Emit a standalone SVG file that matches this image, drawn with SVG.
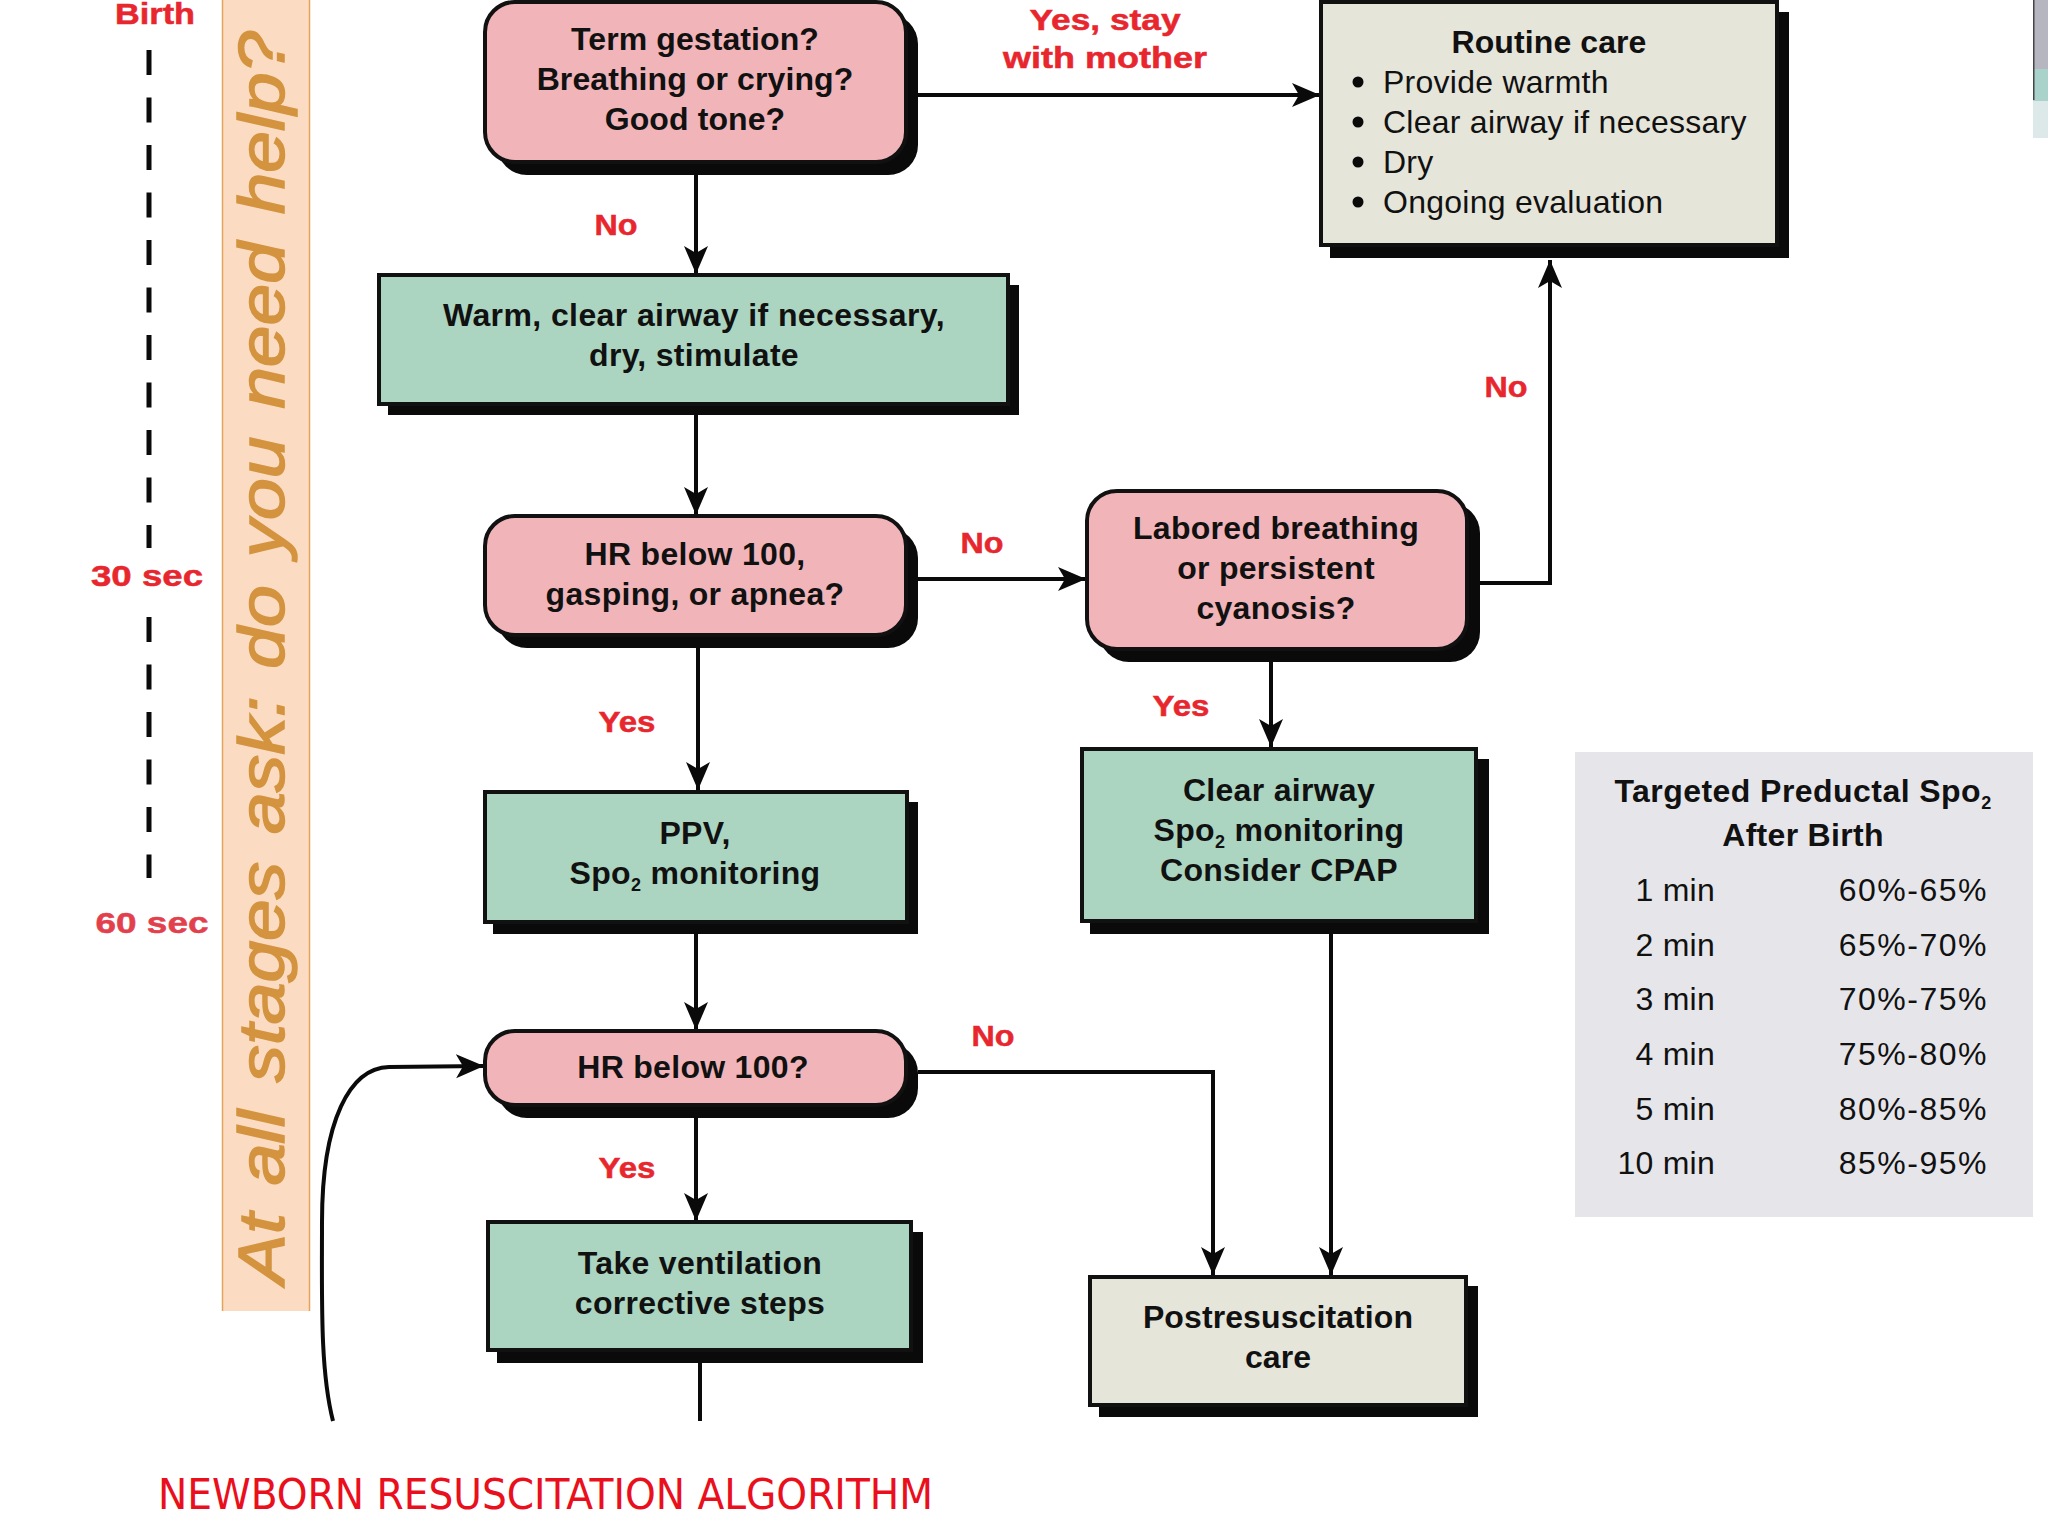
<svg xmlns="http://www.w3.org/2000/svg" width="2048" height="1536" viewBox="0 0 2048 1536">
<style>
text{font-family:"Liberation Sans",Arial,sans-serif;font-size:32px;fill:#111}
.c{text-anchor:middle}
.b{font-weight:700;letter-spacing:.3px}
.t{letter-spacing:.1px}
.r{text-anchor:end;letter-spacing:.25px}
.p{text-anchor:end;letter-spacing:1.5px}
.red{font-weight:700;font-size:30px;fill:#e8262e;text-anchor:middle;stroke:#e8262e;stroke-width:.5}
.s{fill:#0a0a0a}
.pink{fill:#f1b5b9;stroke:#111;stroke-width:4}
.green{fill:#abd5c0;stroke:#111;stroke-width:4}
.beige{fill:#e6e5da;stroke:#111;stroke-width:4}
.sub{font-size:18px}
.con{fill:none;stroke:#0a0a0a;stroke-width:4}
.arr{marker-end:url(#ah)}
</style>
<defs>
<marker id="ah" markerUnits="userSpaceOnUse" markerWidth="32" markerHeight="26" refX="28" refY="12" orient="auto">
<path d="M0 0 L28 12 L0 24 L7 12 Z" fill="#0a0a0a"/>
</marker>
</defs>
<rect width="2048" height="1536" fill="#fff"/>
<g id="sliver">
<rect x="2033" y="0" width="15" height="69" fill="#b6b6c0"/>
<rect x="2033" y="69" width="15" height="32" fill="#a9d2ca"/>
<rect x="2033" y="101" width="15" height="37" fill="#dde9e9"/>
<rect x="2033" y="0" width="1.500" height="100" fill="#444"/>
</g>
<g id="timeline">
<path class="con" style="stroke-width:5" stroke-dasharray="25 22.5" d="M149 50V548"/>
<path class="con" style="stroke-width:5" stroke-dasharray="25 22.500" d="M149 617V878"/>
<text class="red" x="155" y="24" textLength="80" lengthAdjust="spacingAndGlyphs">Birth</text>
<text class="red" x="147" y="586" textLength="112" lengthAdjust="spacingAndGlyphs">30 sec</text>
<text class="red" x="152" y="933" textLength="113" lengthAdjust="spacingAndGlyphs" style="fill:#e2404c;stroke:#e2404c">60 sec</text>
</g>
<g id="banner">
<rect x="222" y="0" width="88" height="1311" fill="#fbdcc2"/>
<path d="M222.500 0V1311M309.500 0V1311" fill="none" stroke="#e2a45c" stroke-width="1.500"/>
<text transform="translate(284,1284) rotate(-90)" textLength="1253" lengthAdjust="spacingAndGlyphs" style="font-size:64px;font-style:italic;font-weight:400;word-spacing:6px;fill:#d4933e;stroke:#d4933e;stroke-width:1.500">At all stages ask: do you need help?</text>
</g>
<g id="connectors">
<path class="con arr" d="M696 175V274"/>
<path class="con arr" d="M696 415V515"/>
<path class="con arr" d="M698 648V790"/>
<path class="con arr" d="M696 934V1030"/>
<path class="con arr" d="M696 1118V1221"/>
<path class="con" d="M700 1363V1421"/>
<path class="con arr" d="M918 95H1320"/>
<path class="con arr" d="M918 579H1086"/>
<path class="con arr" d="M1480 583H1550V260"/>
<path class="con arr" d="M1271 662V747"/>
<path class="con arr" d="M1331 934V1275"/>
<path class="con arr" d="M918 1072H1213V1275"/>
<path class="con arr" d="M333 1421C320 1370 322 1300 322 1222C322 1120 350 1068 389 1067L484 1066"/>
</g>
<g id="labels">
<text class="red" x="1105" y="30" textLength="151" lengthAdjust="spacingAndGlyphs">Yes, stay</text>
<text class="red" x="1105" y="68" textLength="204" lengthAdjust="spacingAndGlyphs">with mother</text>
<text class="red" x="616" y="235" textLength="43" lengthAdjust="spacingAndGlyphs">No</text>
<text class="red" x="1506" y="397" textLength="43" lengthAdjust="spacingAndGlyphs">No</text>
<text class="red" x="982" y="553" textLength="43" lengthAdjust="spacingAndGlyphs">No</text>
<text class="red" x="627" y="732" textLength="57" lengthAdjust="spacingAndGlyphs">Yes</text>
<text class="red" x="1181" y="716" textLength="57" lengthAdjust="spacingAndGlyphs">Yes</text>
<text class="red" x="993" y="1046" textLength="43" lengthAdjust="spacingAndGlyphs">No</text>
<text class="red" x="627" y="1178" textLength="57" lengthAdjust="spacingAndGlyphs">Yes</text>
</g>
<g id="n-term">
<rect class="s" x="497" y="14" width="421" height="161" rx="30"/>
<rect class="pink" x="485" y="2" width="421" height="160" rx="30"/>
<text class="c b t" x="695" y="50">Term gestation?</text>
<text class="c b t" x="695" y="90">Breathing or crying?</text>
<text class="c b t" x="695" y="130">Good tone?</text>
</g>
<g id="n-routine">
<rect class="s" x="1330" y="12" width="459" height="246"/>
<rect class="beige" x="1321" y="2" width="456" height="243"/>
<text class="c b t" x="1549" y="53">Routine care</text>
<circle class="s" cx="1358" cy="82" r="5.500"/><text x="1383" y="93" style="letter-spacing:.25px">Provide warmth</text>
<circle class="s" cx="1358" cy="122" r="5.500"/><text x="1383" y="133" style="letter-spacing:.25px">Clear airway if necessary</text>
<circle class="s" cx="1358" cy="162" r="5.500"/><text x="1383" y="173" style="letter-spacing:.25px">Dry</text>
<circle class="s" cx="1358" cy="202" r="5.500"/><text x="1383" y="213" style="letter-spacing:.25px">Ongoing evaluation</text>
</g>
<g id="n-warm">
<rect class="s" x="388" y="285" width="631" height="130"/>
<rect class="green" x="379" y="275" width="629" height="129"/>
<text class="c b" x="694" y="326" style="letter-spacing:.4px">Warm, clear airway if necessary,</text>
<text class="c b" x="694" y="366">dry, stimulate</text>
</g>
<g id="n-hr1">
<rect class="s" x="497" y="528" width="421" height="120" rx="30"/>
<rect class="pink" x="485" y="516" width="421" height="119" rx="30"/>
<text class="c b" x="695" y="565">HR below 100,</text>
<text class="c b" x="695" y="605">gasping, or apnea?</text>
</g>
<g id="n-labored">
<rect class="s" x="1099" y="503" width="381" height="159" rx="30"/>
<rect class="pink" x="1087" y="491" width="380" height="158" rx="30"/>
<text class="c b" x="1276" y="539">Labored breathing</text>
<text class="c b" x="1276" y="579">or persistent</text>
<text class="c b" x="1276" y="619">cyanosis?</text>
</g>
<g id="n-ppv">
<rect class="s" x="493" y="802" width="425" height="132"/>
<rect class="green" x="485" y="792" width="422" height="130"/>
<text class="c b" x="695" y="844">PPV,</text>
<text class="c b" x="695" y="884">Spo<tspan class="sub" dy="7">2</tspan><tspan dy="-7"> monitoring</tspan></text>
</g>
<g id="n-clear">
<rect class="s" x="1090" y="759" width="399" height="175"/>
<rect class="green" x="1082" y="749" width="394" height="172"/>
<text class="c b" x="1279" y="801">Clear airway</text>
<text class="c b" x="1279" y="841">Spo<tspan class="sub" dy="7">2</tspan><tspan dy="-7"> monitoring</tspan></text>
<text class="c b" x="1279" y="881">Consider CPAP</text>
</g>
<g id="n-hr2">
<rect class="s" x="497" y="1043" width="421" height="75" rx="30"/>
<rect class="pink" x="485" y="1031" width="421" height="74" rx="30"/>
<text class="c b" x="693" y="1078">HR below 100?</text>
</g>
<g id="n-take">
<rect class="s" x="497" y="1232" width="426" height="131"/>
<rect class="green" x="488" y="1222" width="423" height="128"/>
<text class="c b" x="700" y="1274">Take ventilation</text>
<text class="c b" x="700" y="1314">corrective steps</text>
</g>
<g id="n-post">
<rect class="s" x="1099" y="1286" width="379" height="131"/>
<rect class="beige" x="1090" y="1277" width="376" height="128"/>
<text class="c b t" x="1278" y="1328">Postresuscitation</text>
<text class="c b t" x="1278" y="1368">care</text>
</g>
<g id="panel">
<rect x="1575" y="752" width="458" height="465" fill="#e6e6ea"/>
<text class="c b" x="1803" y="802" style="letter-spacing:.45px">Targeted Preductal Spo<tspan class="sub" dy="7">2</tspan></text>
<text class="c b" x="1803" y="846">After Birth</text>
<text class="r" x="1715" y="901">1 min</text><text class="p" x="1988" y="901">60%-65%</text>
<text class="r" x="1715" y="956">2 min</text><text class="p" x="1988" y="956">65%-70%</text>
<text class="r" x="1715" y="1010">3 min</text><text class="p" x="1988" y="1010">70%-75%</text>
<text class="r" x="1715" y="1065">4 min</text><text class="p" x="1988" y="1065">75%-80%</text>
<text class="r" x="1715" y="1120">5 min</text><text class="p" x="1988" y="1120">80%-85%</text>
<text class="r" x="1715" y="1174">10 min</text><text class="p" x="1988" y="1174">85%-95%</text>
</g>
<text id="title" x="158" y="1509" textLength="775" lengthAdjust="spacingAndGlyphs" style="font-family:'DejaVu Sans',sans-serif;font-stretch:condensed;font-size:43px;fill:#ea0f1c">NEWBORN RESUSCITATION ALGORITHM</text>
</svg>
